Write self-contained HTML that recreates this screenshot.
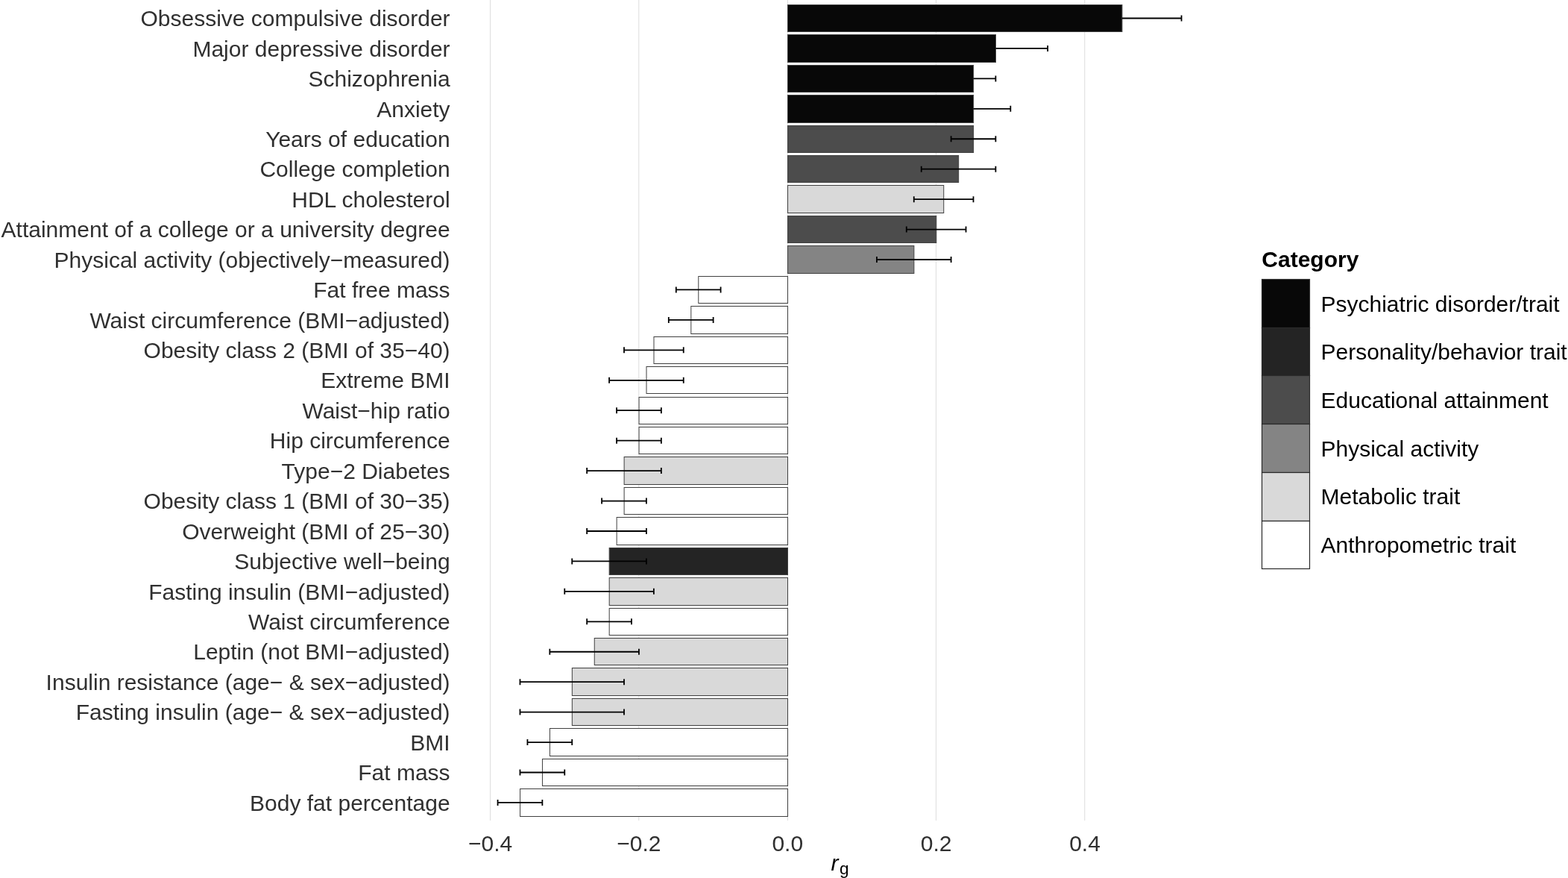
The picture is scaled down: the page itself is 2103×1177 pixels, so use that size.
<!DOCTYPE html>
<html><head><meta charset="utf-8"><title>Genetic correlations</title>
<style>html,body{margin:0;padding:0;background:#fff;width:2103px;height:1177px;overflow:hidden}svg{display:block}</style>
</head><body>
<svg width="2103" height="1177" viewBox="0 0 2103 1177">
<rect width="2103" height="1177" fill="#fff"/>
<g><line x1="657.60" y1="0" x2="657.60" y2="1100" stroke="#dcdcdc" stroke-width="1"/><line x1="856.80" y1="0" x2="856.80" y2="1100" stroke="#dcdcdc" stroke-width="1"/><line x1="1056.40" y1="0" x2="1056.40" y2="1100" stroke="#dcdcdc" stroke-width="1"/><line x1="1255.40" y1="0" x2="1255.40" y2="1100" stroke="#dcdcdc" stroke-width="1"/><line x1="1454.80" y1="0" x2="1454.80" y2="1100" stroke="#dcdcdc" stroke-width="1"/></g>
<g><rect x="1056.50" y="6.50" width="448.44" height="36.00" fill="#080808" stroke="#404040" stroke-width="1.0"/><rect x="1056.50" y="46.50" width="278.99" height="37.00" fill="#080808" stroke="#404040" stroke-width="1.0"/><rect x="1056.50" y="87.50" width="249.09" height="36.00" fill="#080808" stroke="#404040" stroke-width="1.0"/><rect x="1056.50" y="127.50" width="249.09" height="37.00" fill="#080808" stroke="#404040" stroke-width="1.0"/><rect x="1056.50" y="168.50" width="249.09" height="36.00" fill="#4c4c4c" stroke="#404040" stroke-width="1.0"/><rect x="1056.50" y="208.50" width="229.15" height="36.00" fill="#4c4c4c" stroke="#404040" stroke-width="1.0"/><rect x="1056.50" y="248.50" width="209.22" height="37.00" fill="#d9d9d9" stroke="#404040" stroke-width="1.0"/><rect x="1056.50" y="289.50" width="199.25" height="36.00" fill="#4c4c4c" stroke="#404040" stroke-width="1.0"/><rect x="1056.50" y="329.50" width="169.35" height="37.00" fill="#848484" stroke="#404040" stroke-width="1.0"/><rect x="936.79" y="370.50" width="119.71" height="36.00" fill="#ffffff" stroke="#404040" stroke-width="1.0"/><rect x="926.82" y="410.50" width="129.68" height="37.00" fill="#ffffff" stroke="#404040" stroke-width="1.0"/><rect x="876.99" y="451.50" width="179.51" height="36.00" fill="#ffffff" stroke="#404040" stroke-width="1.0"/><rect x="867.02" y="491.50" width="189.48" height="36.00" fill="#ffffff" stroke="#404040" stroke-width="1.0"/><rect x="857.05" y="532.50" width="199.45" height="36.00" fill="#ffffff" stroke="#404040" stroke-width="1.0"/><rect x="857.05" y="572.50" width="199.45" height="36.00" fill="#ffffff" stroke="#404040" stroke-width="1.0"/><rect x="837.12" y="612.50" width="219.38" height="37.00" fill="#d9d9d9" stroke="#404040" stroke-width="1.0"/><rect x="837.12" y="653.50" width="219.38" height="36.00" fill="#ffffff" stroke="#404040" stroke-width="1.0"/><rect x="827.15" y="693.50" width="229.35" height="37.00" fill="#ffffff" stroke="#404040" stroke-width="1.0"/><rect x="817.18" y="734.50" width="239.32" height="36.00" fill="#242424" stroke="#404040" stroke-width="1.0"/><rect x="817.18" y="774.50" width="239.32" height="37.00" fill="#d9d9d9" stroke="#404040" stroke-width="1.0"/><rect x="817.18" y="815.50" width="239.32" height="36.00" fill="#ffffff" stroke="#404040" stroke-width="1.0"/><rect x="797.25" y="855.50" width="259.25" height="36.00" fill="#d9d9d9" stroke="#404040" stroke-width="1.0"/><rect x="767.34" y="895.50" width="289.16" height="37.00" fill="#d9d9d9" stroke="#404040" stroke-width="1.0"/><rect x="767.34" y="936.50" width="289.16" height="36.00" fill="#d9d9d9" stroke="#404040" stroke-width="1.0"/><rect x="737.44" y="976.50" width="319.06" height="37.00" fill="#ffffff" stroke="#404040" stroke-width="1.0"/><rect x="727.47" y="1017.50" width="329.03" height="36.00" fill="#ffffff" stroke="#404040" stroke-width="1.0"/><rect x="697.57" y="1057.50" width="358.93" height="37.00" fill="#ffffff" stroke="#404040" stroke-width="1.0"/></g>
<g stroke="#000" stroke-width="1.8" fill="none"><path d="M1504.84 24.50H1584.58M1584.58 20.50V28.50"/><path d="M1335.39 64.94H1405.16M1405.16 60.94V68.94"/><path d="M1305.49 105.38H1335.39M1335.39 101.38V109.38"/><path d="M1305.49 145.82H1355.32M1355.32 141.82V149.82"/><path d="M1275.59 186.26H1335.39M1275.59 182.26V190.26M1335.39 182.26V190.26"/><path d="M1235.71 226.70H1335.39M1235.71 222.70V230.70M1335.39 222.70V230.70"/><path d="M1225.75 267.14H1305.49M1225.75 263.14V271.14M1305.49 263.14V271.14"/><path d="M1215.78 307.58H1295.52M1215.78 303.58V311.58M1295.52 303.58V311.58"/><path d="M1175.91 348.02H1275.59M1175.91 344.02V352.02M1275.59 344.02V352.02"/><path d="M906.79 388.46H966.59M906.79 384.46V392.46M966.59 384.46V392.46"/><path d="M896.82 428.90H956.62M896.82 424.90V432.90M956.62 424.90V432.90"/><path d="M837.01 469.34H916.75M837.01 465.34V473.34M916.75 465.34V473.34"/><path d="M817.08 509.78H916.75M817.08 505.78V513.78M916.75 505.78V513.78"/><path d="M827.05 550.22H886.85M827.05 546.22V554.22M886.85 546.22V554.22"/><path d="M827.05 590.66H886.85M827.05 586.66V594.66M886.85 586.66V594.66"/><path d="M787.18 631.10H886.85M787.18 627.10V635.10M886.85 627.10V635.10"/><path d="M807.11 671.54H866.92M807.11 667.54V675.54M866.92 667.54V675.54"/><path d="M787.18 711.98H866.92M787.18 707.98V715.98M866.92 707.98V715.98"/><path d="M767.24 752.42H866.92M767.24 748.42V756.42M866.92 748.42V756.42"/><path d="M757.27 792.86H876.88M757.27 788.86V796.86M876.88 788.86V796.86"/><path d="M787.18 833.30H846.98M787.18 829.30V837.30M846.98 829.30V837.30"/><path d="M737.34 873.74H856.95M737.34 869.74V877.74M856.95 869.74V877.74"/><path d="M697.47 914.18H837.01M697.47 910.18V918.18M837.01 910.18V918.18"/><path d="M697.47 954.62H837.01M697.47 950.62V958.62M837.01 950.62V958.62"/><path d="M707.44 995.06H767.24M707.44 991.06V999.06M767.24 991.06V999.06"/><path d="M697.47 1035.50H757.27M697.47 1031.50V1039.50M757.27 1031.50V1039.50"/><path d="M667.57 1075.94H727.37M667.57 1071.94V1079.94M727.37 1071.94V1079.94"/></g>
<g font-family="Liberation Sans, Arial, sans-serif" font-size="30" fill="#303030" text-anchor="end"><text x="603.6" y="35.20">Obsessive compulsive disorder</text><text x="603.6" y="75.64">Major depressive disorder</text><text x="603.6" y="116.08">Schizophrenia</text><text x="603.6" y="156.52">Anxiety</text><text x="603.6" y="196.96">Years of education</text><text x="603.6" y="237.40">College completion</text><text x="603.6" y="277.84">HDL cholesterol</text><text x="603.6" y="318.28">Attainment of a college or a university degree</text><text x="603.6" y="358.72">Physical activity (objectively−measured)</text><text x="603.6" y="399.16">Fat free mass</text><text x="603.6" y="439.60">Waist circumference (BMI−adjusted)</text><text x="603.6" y="480.04">Obesity class 2 (BMI of 35−40)</text><text x="603.6" y="520.48">Extreme BMI</text><text x="603.6" y="560.92">Waist−hip ratio</text><text x="603.6" y="601.36">Hip circumference</text><text x="603.6" y="641.80">Type−2 Diabetes</text><text x="603.6" y="682.24">Obesity class 1 (BMI of 30−35)</text><text x="603.6" y="722.68">Overweight (BMI of 25−30)</text><text x="603.6" y="763.12">Subjective well−being</text><text x="603.6" y="803.56">Fasting insulin (BMI−adjusted)</text><text x="603.6" y="844.00">Waist circumference</text><text x="603.6" y="884.44">Leptin (not BMI−adjusted)</text><text x="603.6" y="924.88">Insulin resistance (age− &amp; sex−adjusted)</text><text x="603.6" y="965.32">Fasting insulin (age− &amp; sex−adjusted)</text><text x="603.6" y="1005.76">BMI</text><text x="603.6" y="1046.20">Fat mass</text><text x="603.6" y="1086.64">Body fat percentage</text></g>
<g font-family="Liberation Sans, Arial, sans-serif" font-size="30" fill="#303030" text-anchor="middle"><text x="657.60" y="1140.5">−0.4</text><text x="856.95" y="1140.5">−0.2</text><text x="1056.30" y="1140.5">0.0</text><text x="1255.65" y="1140.5">0.2</text><text x="1455.00" y="1140.5">0.4</text></g>
<text x="1114.4" y="1166.5" font-family="Liberation Sans, Arial, sans-serif" font-size="30" font-style="italic" fill="#000">r</text>
<text x="1126.1" y="1172" font-family="Liberation Sans, Arial, sans-serif" font-size="22.5" fill="#000">g</text>
<text x="1692.3" y="358.1" font-family="Liberation Sans, Arial, sans-serif" font-size="30" font-weight="bold" fill="#000">Category</text>
<g><rect x="1692.5" y="374.50" width="64.0" height="65.00" fill="#080808" stroke="#2a2a2a" stroke-width="1.2"/><rect x="1692.5" y="439.50" width="64.0" height="64.00" fill="#242424" stroke="#2a2a2a" stroke-width="1.2"/><rect x="1692.5" y="503.50" width="64.0" height="65.00" fill="#4c4c4c" stroke="#2a2a2a" stroke-width="1.2"/><rect x="1692.5" y="568.50" width="64.0" height="65.00" fill="#848484" stroke="#2a2a2a" stroke-width="1.2"/><rect x="1692.5" y="633.50" width="64.0" height="65.00" fill="#d9d9d9" stroke="#2a2a2a" stroke-width="1.2"/><rect x="1692.5" y="698.50" width="64.0" height="64.00" fill="#ffffff" stroke="#2a2a2a" stroke-width="1.2"/></g>
<g font-family="Liberation Sans, Arial, sans-serif" font-size="30" fill="#000"><text x="1771.5" y="417.65">Psychiatric disorder/trait</text><text x="1771.5" y="482.35">Personality/behavior trait</text><text x="1771.5" y="547.05">Educational attainment</text><text x="1771.5" y="611.75">Physical activity</text><text x="1771.5" y="676.45">Metabolic trait</text><text x="1771.5" y="741.15">Anthropometric trait</text></g>
</svg>
</body></html>
